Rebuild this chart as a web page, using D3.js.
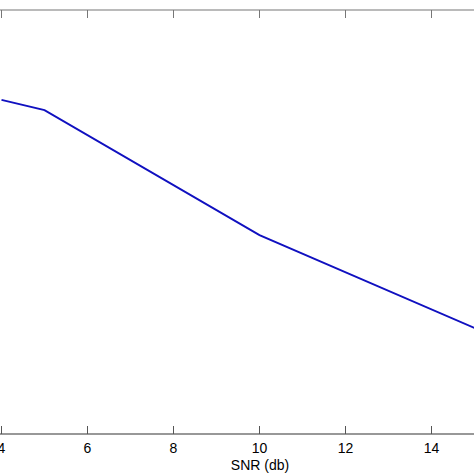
<!DOCTYPE html><html><head><script src="https://cdn.jsdelivr.net/npm/d3@7"></script>
<style>body{margin:0;background:#fff}</style></head><body><svg id="c" width="474" height="474"></svg>
<script>
const snr=[4,5,10,15];
const vals=[0.788,0.764,0.469,0.25];
const xTicks=[4,6,8,10,12,14];
const svg=d3.select("#c");
const x=d3.scaleLinear().domain([4,15]).range([1.5,474.5]);
const y=d3.scaleLinear().domain([0,1]).range([434,10]);
svg.append("line").attr("x1",0).attr("x2",474).attr("y1",434).attr("y2",434).attr("stroke","#333").attr("stroke-width",1.2);
svg.append("line").attr("x1",0).attr("x2",474).attr("y1",10).attr("y2",10).attr("stroke","#777").attr("stroke-width",1.2);
xTicks.forEach(t=>{
 svg.append("line").attr("x1",x(t)).attr("x2",x(t)).attr("y1",434).attr("y2",426).attr("stroke","#555");
 svg.append("line").attr("x1",x(t)).attr("x2",x(t)).attr("y1",10).attr("y2",18).attr("stroke","#777");
 svg.append("text").attr("x",x(t)).attr("y",453).attr("text-anchor","middle").attr("font-family","Liberation Sans, Arial").attr("font-size",14).text(t);
});
svg.append("text").attr("x",260).attr("y",470).attr("text-anchor","middle").attr("font-family","Liberation Sans, Arial").attr("font-size",14).text("SNR (db)");
svg.append("path").datum(snr.map((s,i)=>[s,vals[i]])).attr("fill","none").attr("stroke","#1010c0").attr("stroke-width",2)
 .attr("d",d3.line().x(d=>x(d[0])).y(d=>y(d[1])));
</script></body></html>
